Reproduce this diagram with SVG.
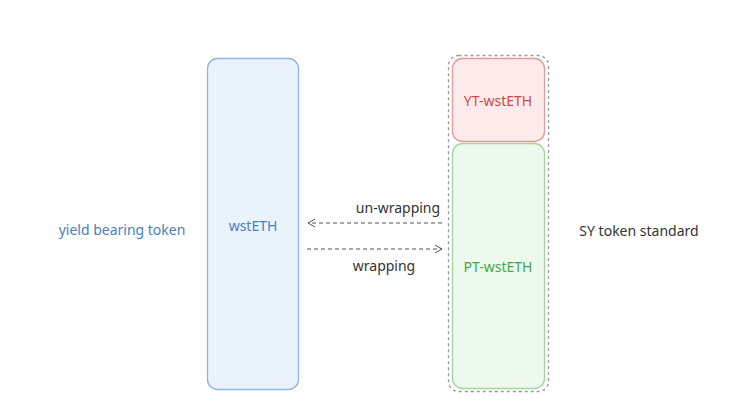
<svg xmlns="http://www.w3.org/2000/svg" width="754" height="420" viewBox="0 0 754 420">
<style>
text{font-family:"Noto Sans","Liberation Sans",sans-serif;font-size:14px;text-anchor:middle;dominant-baseline:central}
.conn{stroke:#555;stroke-width:1;fill:none;stroke-dasharray:4 3}
</style>
<defs>
<marker id="ah" markerWidth="10" markerHeight="10" refX="8" refY="5" orient="auto" markerUnits="userSpaceOnUse">
<path d="M1,1 L8,5 L1,9" fill="none" stroke="#555" stroke-width="1"/>
</marker>
</defs>
<rect width="754" height="420" fill="#fff"/>
<g id="wsteth">
<rect x="207.5" y="58.5" width="91" height="331" rx="10" fill="#eaf3fc" stroke="#8db5e2" stroke-width="1.3"/>
<text x="253" y="225" fill="#4a7fc1">wstETH</text>
</g>
<g id="sy-container">
<rect x="448.5" y="55.5" width="100" height="336" rx="10" fill="none" stroke="#999" stroke-width="1.3" stroke-dasharray="3 3"/>
</g>
<g id="yt">
<rect x="452.5" y="58.5" width="92" height="83" rx="10" fill="#fdeaea" stroke="#e29a9a" stroke-width="1.3"/>
<text x="498" y="100" fill="#d04848">YT-wstETH</text>
</g>
<g id="pt">
<rect x="452.5" y="143.5" width="92" height="245" rx="10" fill="#edf9ed" stroke="#9fd69f" stroke-width="1.3"/>
<text x="498" y="266" fill="#45a845">PT-wstETH</text>
</g>
<g id="connectors">
<line class="conn" x1="442" y1="223" x2="308" y2="223" marker-end="url(#ah)"/>
<text x="398" y="207" fill="#333">un-wrapping</text>
<line class="conn" x1="307" y1="249" x2="442" y2="249" marker-end="url(#ah)"/>
<text x="384" y="265" fill="#333">wrapping</text>
</g>
<g id="label-yield">
<text x="122" y="229" fill="#4a7fc1">yield bearing token</text>
</g>
<g id="label-sy">
<text x="639" y="230" fill="#333">SY token standard</text>
</g>
</svg>
